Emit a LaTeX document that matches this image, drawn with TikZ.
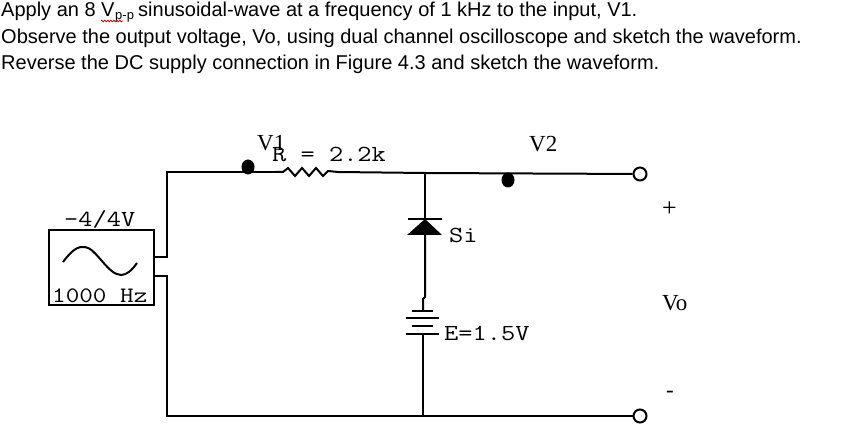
\documentclass[tikz,border=0pt]{standalone}
\usepackage{fontspec}
\setmainfont{Liberation Serif}
\setsansfont{Liberation Sans}
\setmonofont[FakeStretch=1.2]{Latin Modern Mono}
\usetikzlibrary{decorations.pathmorphing,shapes.geometric}
\newcommand{\sanstext}{\fontsize{20}{24}\selectfont\sffamily}
\newcommand{\monotext}{\fontsize{23}{24}\selectfont\ttfamily}
\tikzset{
  x=1pt,y=-1pt,
  wire/.style={line width=2pt,line join=miter},
  bodytext/.style={anchor=base west,inner sep=0pt,font=\sanstext},
  monolabel/.style={anchor=base west,inner sep=0pt,font=\monotext},
  seriflabel/.style={anchor=base west,inner sep=0pt,font=\fontsize{23}{24}\selectfont\rmfamily},
  dotnode/.style={ellipse,fill=black,inner sep=0pt,minimum width=13pt,minimum height=15pt},
  terminal/.style={circle,draw,line width=2pt,fill=white,inner sep=0pt,minimum size=13pt}
}
\begin{document}
\begin{tikzpicture}
\useasboundingbox (0,0) rectangle (859,430);
\fill[white] (0,0) rectangle (859,430);
% header text
\node[bodytext] (t1a) at (1,17) {Apply an 8 V};
\node[bodytext,font=\fontsize{13}{16}\selectfont\sffamily] (t1b) at (115,20) {p-p};
\node[bodytext] (t1c) at (138,17) {sinusoidal-wave at a frequency of 1 kHz to the input, V1.};
\node[bodytext] (t2) at (1,44) {Observe the output voltage, Vo, using dual channel oscilloscope and sketch the waveform.};
\node[bodytext] (t3) at (1,70) {Reverse the DC supply connection in Figure 4.3 and sketch the waveform.};
\draw[red!75!black,line width=0.7pt,decorate,decoration={zigzag,segment length=3pt,amplitude=0.9pt}] (101,21) -- (123,21);
% source
\node[draw,line width=2pt,minimum width=105pt,minimum height=74pt,inner sep=0pt] (src) at (101.5,267.5) {};
\coordinate (srcA) at (154,257.5);
\coordinate (srcB) at (154,276.5);
\draw[line width=2pt] (63,262) .. controls (72,250) and (78,246) .. (85,247) .. controls (96,248) and (108,275) .. (121,275) .. controls (127,275) and (132,270) .. (137,263);
% nodes
\coordinate (tl) at (167,172);
\coordinate (bl) at (167,416);
\node[dotnode] (v1dot) at (248,167) {};
\coordinate (rl) at (275,172);
\coordinate (rr) at (338,172);
\coordinate (top) at (425,173);
\node[dotnode] (v2dot) at (508,180) {};
\node[terminal] (outT) at (640,174) {};
\node[terminal] (outB) at (640,416) {};
\coordinate (bot) at (423,416);
\coordinate (dk) at (425,219);
\coordinate (da) at (425,235);
\coordinate (batT) at (423,311);
\coordinate (batB) at (423,334);
% wires
\draw[wire] (srcA) -- (167,257.5) -- (tl) -- (rl);
\draw[wire] (rl) -- (283,172) -- (288,168) -- (295,176) -- (302,168) -- (309,176) -- (316,168) -- (323,176) -- (328,171) -- (rr) -- (top);
\draw[wire] (top) -- (outT);
\draw[wire] (srcB) -- (167,276.5) -- (bl) -- (bot) -- (outB);
\draw[wire] (top) -- (dk);
\draw[wire] (da) -- (425,297) -- (423,299) -- (batT);
\draw[wire] (batB) -- (bot);
% diode
\draw[wire] (408,219) -- (442,219);
\fill (425,219) -- (442,235) -- (407,235) -- cycle;
% battery
\draw[wire] (412,311) -- (433,311);
\draw[wire] (406,318) -- (439,318);
\draw[wire] (412,326) -- (433,326);
\draw[wire] (406,334) -- (439,334);
% labels
\node[seriflabel] (v1) at (257,151) {V1};
\node[monolabel] (r) at (272,162) {R = 2.2k};
\node[seriflabel] (v2) at (529,152) {V2};
\node[monolabel] (vs) at (64,227) {-4/4V};
\node[monolabel,font=\fontsize{22}{24}\selectfont\ttfamily] (hz) at (52,302) {1000 Hz};
\node[monolabel] (si) at (449,243) {Si};
\node[monolabel] (e) at (444,340) {E=1.5V};
\node[seriflabel,font=\fontsize{26}{28}\selectfont\rmfamily] (plus) at (662,217) {+};
\node[seriflabel] (vo) at (662,310) {Vo};
\node[seriflabel] (minus) at (666,397) {-};
\end{tikzpicture}
\end{document}
